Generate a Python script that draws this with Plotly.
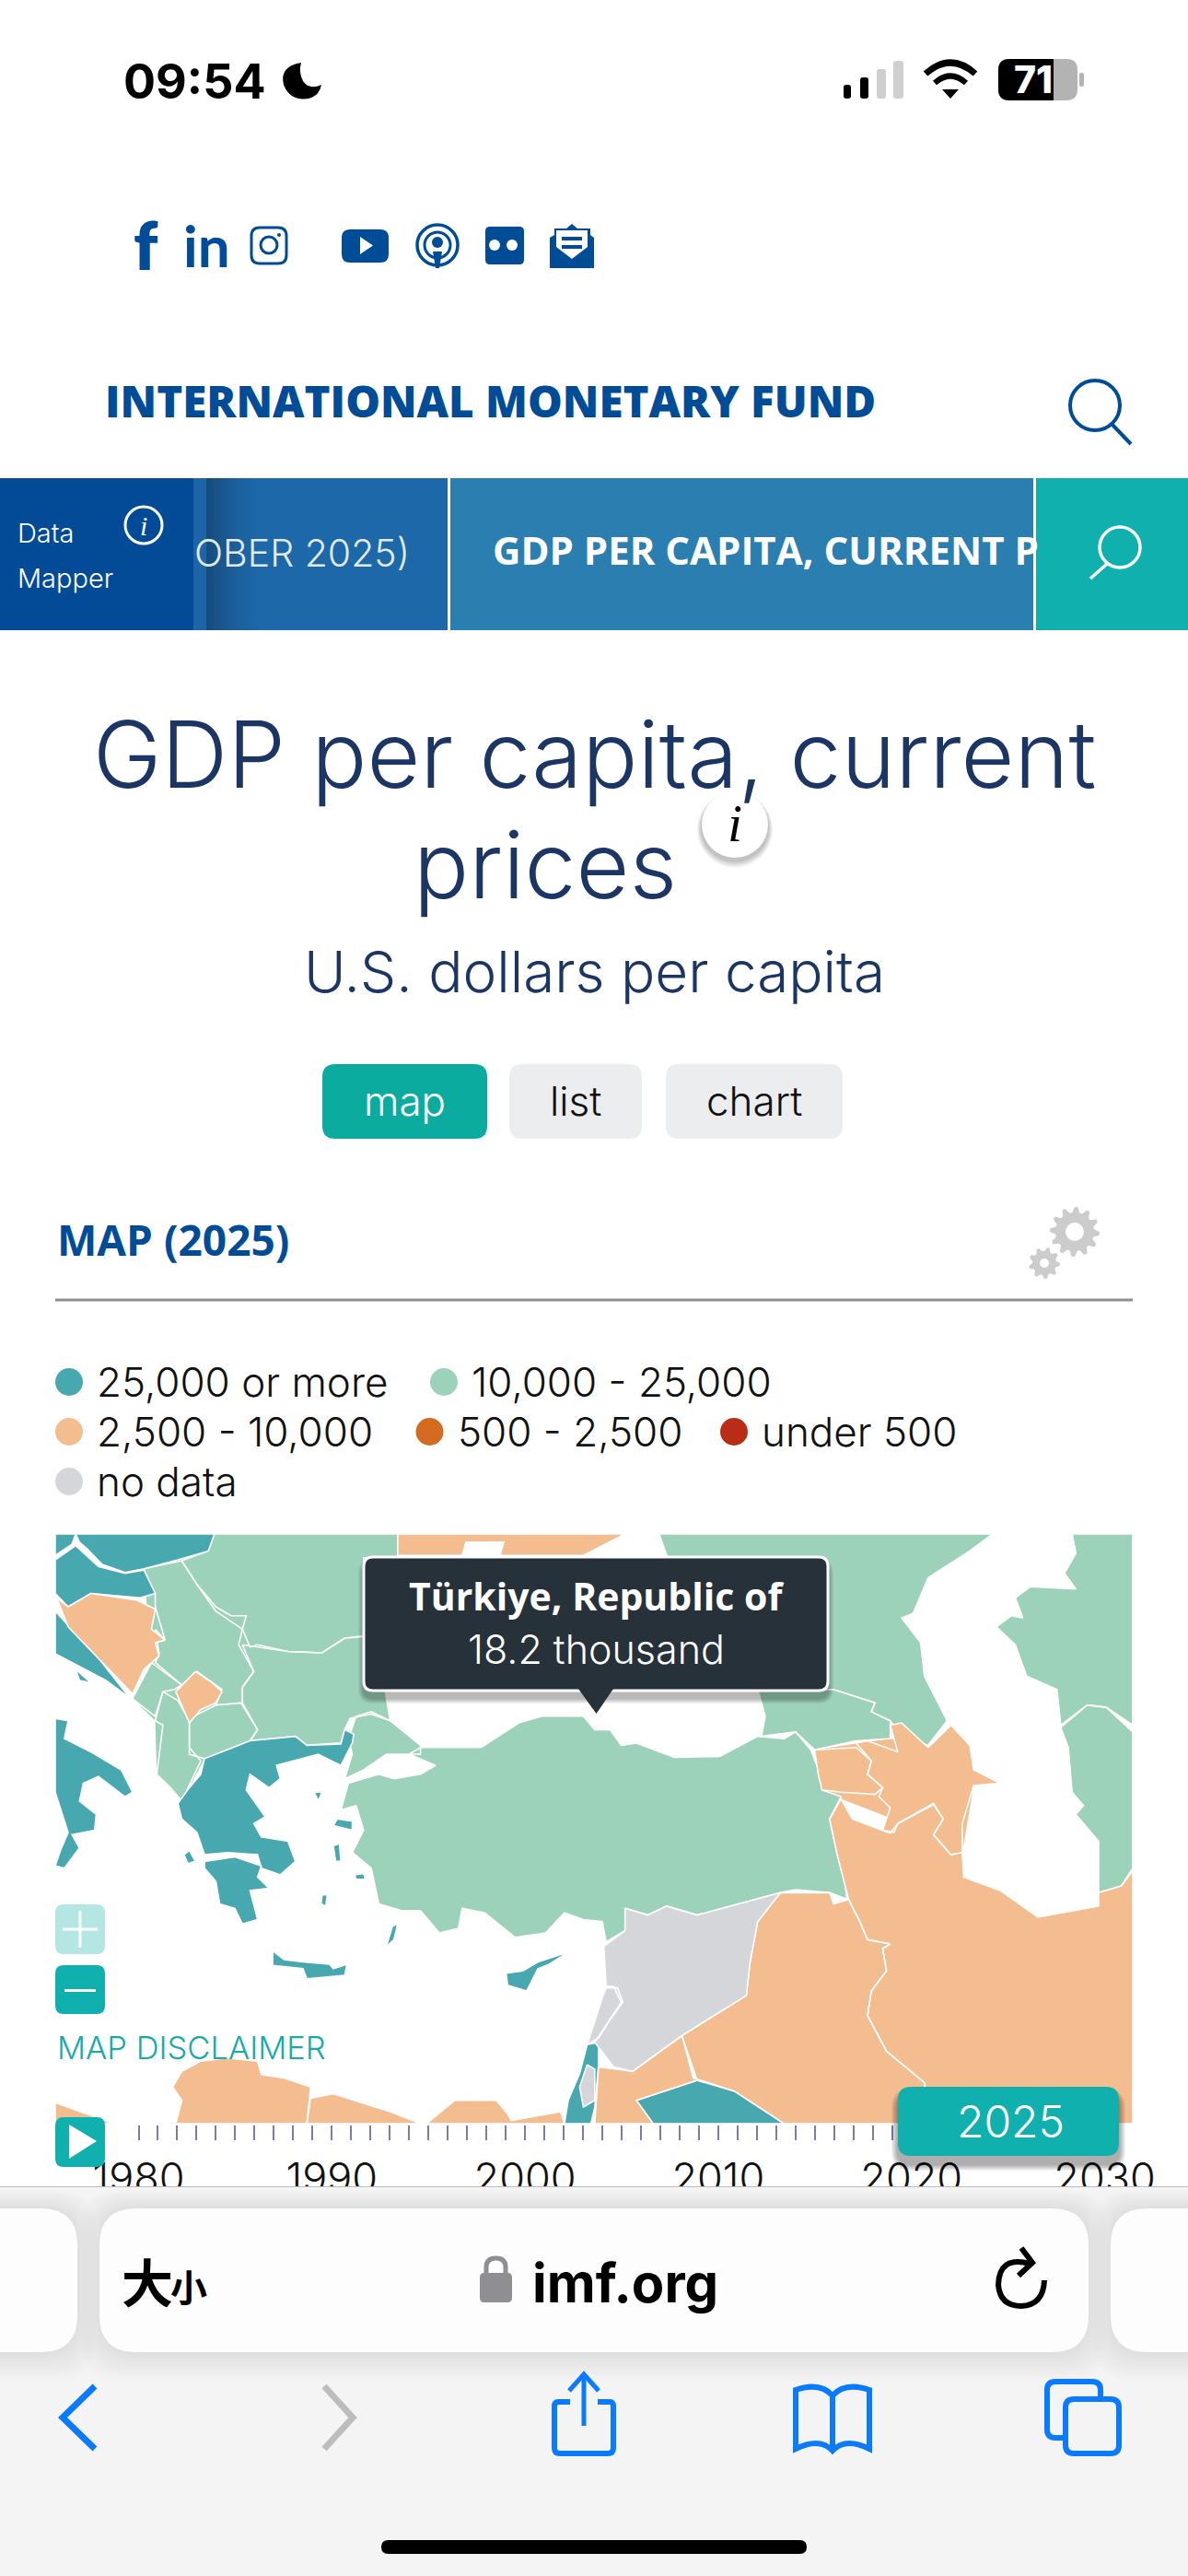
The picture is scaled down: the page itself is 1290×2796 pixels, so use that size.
import math
import plotly.graph_objects as go

# map bands (map units, y grows downwards)
high_band = [
    [(73, 52), (100, 52), (95, 75), (73, 100)],
    [(100, 52), (283, 52), (275, 90), (235, 110), (190, 130), (165, 138), (135, 120), (115, 85), (105, 70)],
    [(73, 110), (100, 78), (130, 125), (165, 140), (190, 133), (205, 185), (185, 195), (120, 185), (90, 215), (73, 185)],
    [(73, 225), (130, 330), (172, 420), (140, 380), (73, 320)],
    [(73, 465), (90, 470), (85, 510), (120, 540), (160, 580), (175, 630), (165, 640), (130, 595), (110, 610), (105, 650),
     (127, 680), (125, 715), (95, 725), (105, 755), (85, 800), (73, 795), (80, 760), (90, 720), (73, 630)],
    [(270, 555), (330, 515), (390, 505), (405, 525), (450, 522), (455, 490), (467, 500), (465, 520), (450, 570), (420, 545),
     (365, 570), (370, 600), (355, 620), (330, 590), (325, 625), (350, 685), (335, 700), (345, 730), (380, 740), (390, 785),
     (370, 815), (345, 800), (340, 770), (300, 765), (270, 770), (260, 720), (240, 690), (235, 655), (250, 620), (265, 590)],
    [(270, 785), (310, 775), (345, 795), (340, 820), (355, 845), (330, 850), (340, 915), (320, 925), (310, 890), (290, 880),
     (285, 830), (270, 800)],
    [(360, 985), (375, 1005), (400, 1010), (435, 1015), (440, 1025), (458, 1015), (455, 1040), (405, 1048), (400, 1025), (360, 1018)],
    [(750, 988), (725, 1015), (710, 1025), (700, 1060), (695, 1075), (670, 1062), (668, 1035), (690, 1030), (710, 1010)],
    [(775, 1195), (790, 1190), (790, 1240), (785, 1335), (780, 1372), (745, 1372), (750, 1320), (765, 1260)],
    [(840, 1320), (920, 1275), (970, 1300), (1035, 1372), (862, 1372)],
    [(445, 690), (465, 695), (465, 715), (440, 705)],
    [(440, 750), (448, 745), (450, 785), (443, 785)],
    [(468, 815), (480, 812), (482, 825), (470, 825)],
    [(425, 860), (432, 860), (430, 885), (424, 880)],
    [(510, 975), (518, 930), (525, 925), (520, 960)],
    [(250, 760), (258, 785), (248, 790), (243, 770)],
    [(415, 630), (425, 630), (420, 650)],
    [(100, 355), (120, 385), (105, 380)],
]
upper_band = [
    [(283, 52), (530, 52), (530, 105), (480, 105), (480, 280), (455, 285), (425, 318), (380, 315), (340, 300), (330, 305),
     (320, 265), (325, 235), (305, 235), (285, 215), (260, 165), (240, 112), (275, 90)],
    [(190, 130), (240, 112), (260, 165), (285, 225), (320, 265), (315, 300), (335, 360), (320, 395), (320, 430), (285, 435),
     (293, 400), (260, 360), (240, 390), (205, 340), (210, 320), (205, 265), (218, 290), (205, 215), (205, 190)],
    [(320, 300), (340, 305), (380, 315), (425, 318), (455, 285), (500, 280), (510, 420), (515, 470), (490, 455), (462, 465),
     (455, 490), (450, 520), (405, 525), (390, 505), (330, 515), (340, 490), (320, 430), (320, 395), (335, 360)],
    [(250, 465), (285, 435), (318, 430), (340, 490), (330, 515), (270, 555), (250, 545)],
    [(215, 405), (235, 425), (250, 470), (250, 530), (265, 560), (240, 650), (225, 620), (207, 590), (215, 480), (205, 470)],
    [(175, 420), (200, 340), (240, 390), (230, 400), (215, 405), (205, 460), (178, 425)],
    [(460, 510), (470, 460), (490, 450), (515, 470), (555, 525), (555, 545), (510, 545), (480, 580), (455, 600), (465, 545)],
    [(555, 530), (635, 530), (685, 475), (715, 460), (770, 460), (785, 490), (805, 490), (820, 525), (840, 520), (890, 552),
     (950, 550), (1000, 505), (1035, 510), (1050, 495), (1070, 535), (1085, 600), (1085, 625), (1110, 640), (1095, 690),
     (1105, 770), (1115, 830), (1118, 870), (1095, 855), (1050, 848), (1030, 855), (975, 880), (920, 905), (880, 885),
     (855, 905), (825, 890), (825, 940), (800, 965), (795, 920), (770, 915), (745, 900), (720, 945), (680, 955), (640, 900),
     (610, 890), (605, 935), (580, 945), (555, 895), (530, 895), (500, 880), (490, 800), (465, 765), (480, 715), (470, 660),
     (450, 670), (460, 610), (500, 590), (520, 600), (555, 590), (575, 570), (540, 545)],
    [(1000, 400), (1100, 400), (1155, 430), (1150, 450), (1175, 470), (1175, 510), (1130, 515), (1075, 535), (1050, 495),
     (1005, 505), (1010, 460)],
    [(870, 52), (1310, 52), (1280, 90), (1225, 150), (1205, 230), (1190, 240), (1215, 295), (1220, 370), (1250, 470),
     (1225, 525), (1190, 510), (1175, 470), (1150, 450), (1155, 430), (1100, 400), (1000, 400), (880, 100)],
    [(1415, 52), (1495, 52), (1495, 480), (1460, 440), (1435, 435), (1400, 480), (1395, 400), (1355, 370), (1340, 300),
     (1315, 260), (1335, 235), (1350, 240), (1340, 195), (1360, 170), (1420, 175), (1405, 140), (1420, 95)],
    [(1400, 485), (1435, 435), (1460, 440), (1495, 495), (1495, 800), (1480, 840), (1450, 855), (1450, 740), (1420, 680),
     (1430, 660), (1415, 630), (1410, 530)],
]
middle_band = [
    [(525, 52), (825, 52), (770, 100), (660, 100), (665, 70), (615, 70), (610, 100), (525, 100)],
    [(75, 195), (90, 215), (120, 185), (180, 200), (205, 220), (200, 265), (218, 290), (205, 295), (210, 325), (190, 355),
     (175, 410), (130, 330), (90, 260)],
    [(258, 360), (280, 385), (293, 405), (285, 430), (265, 445), (250, 475), (232, 405)],
    [(1075, 535), (1130, 530), (1150, 560), (1145, 590), (1165, 620), (1155, 635), (1110, 630), (1085, 625), (1080, 590)],
    [(1130, 520), (1145, 515), (1185, 540), (1175, 480), (1190, 475), (1225, 530), (1255, 480), (1280, 525), (1285, 580),
     (1320, 610), (1285, 615), (1270, 700), (1270, 765), (1255, 770), (1232, 725), (1245, 690), (1232, 655), (1185, 700),
     (1180, 720), (1165, 715), (1175, 665), (1160, 640), (1165, 620), (1145, 590), (1150, 560)],
    [(1110, 645), (1125, 690), (1175, 722), (1185, 700), (1232, 658), (1245, 690), (1232, 725), (1255, 770), (1270, 765),
     (1272, 820), (1320, 850), (1370, 910), (1450, 885), (1450, 855), (1480, 840), (1495, 805), (1495, 1372), (1230, 1372),
     (1220, 1280), (1170, 1210), (1145, 1130), (1150, 1075), (1170, 1030), (1165, 980), (1175, 970), (1145, 960),
     (1135, 920), (1120, 870), (1105, 770), (1095, 690)],
    [(1030, 855), (1095, 855), (1100, 880), (1120, 870), (1135, 920), (1145, 960), (1175, 970), (1165, 980), (1170, 1030),
     (1150, 1075), (1145, 1130), (1170, 1210), (1220, 1280), (1230, 1372), (1035, 1372), (970, 1300), (925, 1275),
     (915, 1270), (900, 1175), (985, 1085), (990, 1010), (1000, 920)],
    [(900, 1175), (835, 1255), (790, 1245), (785, 1372), (862, 1372), (840, 1320), (920, 1275)],
    [(232, 1372), (240, 1320), (228, 1290), (240, 1255), (265, 1232), (300, 1225), (340, 1232), (345, 1262), (375, 1270),
     (410, 1290), (405, 1372)],
    [(410, 1315), (440, 1305), (495, 1335), (515, 1345), (555, 1372), (405, 1372)],
    [(563, 1372), (600, 1320), (655, 1320), (670, 1350), (675, 1365), (740, 1345), (745, 1372)],
    [(73, 1325), (150, 1372), (73, 1372)],
]
no_data_band = [
    [(825, 890), (855, 905), (880, 885), (920, 905), (975, 880), (1030, 855), (1000, 920), (990, 1010), (985, 1085), (900, 1175),
     (835, 1255), (810, 1245), (785, 1190), (805, 1140), (820, 1100), (810, 1065), (800, 1065), (797, 975), (825, 940)],
    [(800, 1068), (815, 1068), (822, 1100), (805, 1140), (790, 1180), (775, 1195), (795, 1090)],
    [(775, 1240), (785, 1250), (785, 1320), (770, 1335), (765, 1290)],
]
# land under the Balkans and the Caucasus, so no sea shows between neighbours
balkan_land = [(190, 130), (283, 52), (530, 52), (530, 105), (500, 400), (515, 470), (490, 455), (462, 465), (455, 490),
               (340, 500), (270, 555), (240, 650), (207, 590), (205, 470), (175, 420), (200, 340)]
caucasus_land = [(1075, 535), (1175, 510), (1225, 530), (1255, 480), (1280, 525), (1285, 615), (1270, 765), (1232, 725),
                 (1110, 645), (1085, 625), (1080, 590)]

legend_labels = ["25,000 or more", "10,000 - 25,000", "2,500 - 10,000", "500 - 2,500", "under 500", "no data"]
legend_colors = ["#48a8b0", "#9dd2ba", "#f3bd90", "#d56a21", "#b92d17", "#d5d6da"]
slider_years = list(range(1980, 2031))
slider_labels = [str(y) if y % 10 == 0 else "" for y in slider_years]
current_year = "2025"

BLUE = "#004c97"
NAVY = "#1b3564"
TEAL = "#0fb0ae"
LIGHT = "Inter"
BOLD = "Open Sans"
ICON = "#0a7aff"

shapes = []
annotations = []


def rrect(x0, y0, x1, y1, r):
    return (f"M{x0 + r},{y0}L{x1 - r},{y0}Q{x1},{y0} {x1},{y0 + r}L{x1},{y1 - r}Q{x1},{y1} {x1 - r},{y1}"
            f"L{x0 + r},{y1}Q{x0},{y1} {x0},{y1 - r}L{x0},{y0 + r}Q{x0},{y0} {x0 + r},{y0}Z")


def path(d, fill=None, line=None, width=0):
    shapes.append(dict(type="path", path=d, xref="x", yref="y", layer="above",
                       fillcolor=fill or "rgba(0,0,0,0)",
                       line=dict(color=line or "rgba(0,0,0,0)", width=width)))


def box(x0, y0, x1, y1, fill):
    shapes.append(dict(type="rect", x0=x0, y0=y0, x1=x1, y1=y1, xref="x", yref="y", layer="above",
                       fillcolor=fill, line=dict(width=0)))


def circle(cx, cy, r, fill=None, line=None, width=0):
    shapes.append(dict(type="circle", x0=cx - r, y0=cy - r, x1=cx + r, y1=cy + r, xref="x", yref="y", layer="above",
                       fillcolor=fill or "rgba(0,0,0,0)",
                       line=dict(color=line or "rgba(0,0,0,0)", width=width)))


def text(x, y, s, size, color, weight=300, anchor="left", family=LIGHT, style="normal"):
    annotations.append(dict(x=x, y=y, xref="x", yref="y", text=s, showarrow=False, xanchor=anchor, yanchor="middle",
                            font=dict(family=family, size=size, color=color, weight=weight, style=style)))


def shadow(x0, y0, x1, y1, r, steps=5, drop=8):
    for i in range(steps, 0, -1):
        path(rrect(x0 - i, y0 + drop - i, x1 + i, y1 + drop + i, r + i), fill="rgba(0,0,0,0.05)")


def gear(cx, cy, r_out, r_in, r_hole, teeth):
    pts = []
    for i in range(teeth * 4):
        a = 2 * math.pi * i / (teeth * 4)
        r = r_out if i % 4 in (0, 1) else r_in
        pts.append(f"{cx + r * math.cos(a):.1f},{cy + r * math.sin(a):.1f}")
    path("M" + "L".join(pts) + "Z", fill="#cccccc")
    circle(cx, cy, r_hole, fill="#ffffff")


def add_land(poly, color):
    fig.add_trace(go.Scatter(x=[p[0] for p in poly] + [poly[0][0]], y=[p[1] for p in poly] + [poly[0][1]],
                             xaxis="x2", yaxis="y2", mode="lines", fill="toself", fillcolor=color,
                             line=dict(color=color, width=0), showlegend=False, hoverinfo="skip"))


fig = go.Figure()

# page axes, in screen pixels
fig.add_trace(go.Scatter(x=[0], y=[0], mode="none", showlegend=False, hoverinfo="skip"))

# map
add_land(balkan_land, legend_colors[1])
add_land(caucasus_land, legend_colors[2])
band_fills = [(upper_band, legend_colors[1]), (high_band, legend_colors[0]),
              (middle_band, legend_colors[2]), (no_data_band, legend_colors[5])]
for band, color in band_fills:
    xs, ys = [], []
    for poly in band:
        xs += [p[0] for p in poly] + [poly[0][0], None]
        ys += [p[1] for p in poly] + [poly[0][1], None]
    fig.add_trace(go.Scatter(x=xs, y=ys, xaxis="x2", yaxis="y2", mode="lines", fill="toself", fillcolor=color,
                             line=dict(color="#ffffff", width=1.6), showlegend=False, hoverinfo="skip"))

# year slider axis
fig.add_trace(go.Scatter(x=slider_years, y=[0] * len(slider_years), xaxis="x3", yaxis="y3", mode="none",
                         showlegend=False, hoverinfo="skip"))

# status bar
text(132, 88, "09:54", 52, "#000000", 700, family="Inter")
path("M327,68Q303,72 308,92Q315,110 335,107Q347,104 349,92Q336,98 329,88Q324,78 327,68Z", fill="#000000")
for x0, x1, top, col in [(916, 924, 92, "#000000"), (934, 943, 84, "#000000"), (952, 962, 75, "#cfcfcf"), (970, 981, 66, "#cfcfcf")]:
    path(rrect(x0, top, x1, 107, 3), fill=col)
path("M1005,80Q1032,56 1059,80", line="#000000", width=7)
path("M1015,90Q1032,75 1049,90", line="#000000", width=6)
path("M1023,97L1041,97L1032,107Z", fill="#000000")
path(rrect(1084, 64, 1170, 109, 12), fill="#b3b3b3")
path("M1144,64L1096,64Q1084,64 1084,76L1084,97Q1084,109 1096,109L1144,109Z", fill="#000000")
path(rrect(1172, 79, 1177, 94, 2), fill="#b3b3b3")
text(1122, 86, "71", 41, "#ffffff", 800, "center", family="Inter")

# social icons
text(143, 265, "f", 72, BLUE, 800, family="Lato")
text(197, 266, "in", 62, BLUE, 700, family="Lato")
path(rrect(273, 247, 311, 286, 9), line=BLUE, width=3)
circle(292, 266, 9, line=BLUE, width=3)
circle(303, 255, 2, fill=BLUE)
path(rrect(371, 249, 422, 285, 9), fill=BLUE)
path("M391,257L391,276L405,266.5Z", fill="#ffffff")
circle(475, 266, 22, line=BLUE, width=3.5)
circle(475, 266, 14, line=BLUE, width=3)
circle(475, 263, 6, fill=BLUE)
path("M470,273L480,273L477,291L473,291Z", fill=BLUE)
path(rrect(527, 246, 569, 287, 5), fill=BLUE)
circle(537, 266, 6, fill="#ffffff")
circle(556, 266, 6, fill="#ffffff")
path("M597,291L597,258L602,255L602,248L615,248L621,243L627,248L641,248L641,255L645,258L645,291Z", fill=BLUE)
path("M604,250L638,250L638,268L621,281L604,268Z", fill="#ffffff")
box(610, 257, 632, 261, BLUE)
box(610, 266, 632, 270, BLUE)

text(112, 434, "INTERNATIONAL MONETARY FUND", 47.5, BLUE, 800, family=BOLD)
circle(1189, 440, 27, line=BLUE, width=4)
path("M1207,460L1228,482", line=BLUE, width=4)

# nav bar
box(0, 519, 210, 684, "#034b97")
box(210, 519, 224, 684, "#1e65a8")
box(224, 519, 486, 684, "#1d68a8")
for i in range(14):
    box(224 + i * 4, 519, 228 + i * 4, 684, f"rgba(20,60,100,{0.62 * (1 - i / 14) ** 1.5:.3f})")
box(486, 519, 489, 684, "#ffffff")
box(489, 519, 1122, 684, "#2a7eb0")
box(1122, 519, 1125, 684, "#ffffff")
box(1125, 519, 1290, 684, TEAL)
text(17, 578, "Data", 29, "#ffffff")
text(17, 627, "Mapper", 29, "#ffffff")
circle(156, 570, 20, line="#ffffff", width=3)
text(156, 570, "i", 30, "#ffffff", 400, "center", family="Liberation Serif", style="italic")
text(209, 600, "OBER 2025)", 41, "#e3e9f1")
text(533, 596, "GDP PER CAPITA, CURRENT P", 42, "#ffffff", 700, family=BOLD)
circle(1216, 594, 22, line="#ffffff", width=3.5)
path("M1202,612L1184,628", line="#ffffff", width=3.5)

# title block
text(645, 818, "GDP per capita, current", 100, NAVY, 300, "center")
text(592, 938, "prices", 100, NAVY, 300, "center")
text(645, 1054, "U.S. dollars per capita", 62, NAVY, 300, "center")
for i in range(5, 0, -1):
    circle(798, 898 + i / 2, 36 + i, fill="rgba(0,0,0,0.05)")
circle(798, 895, 36, fill="#ffffff")
text(798, 893, "i", 58, "#000000", 400, "center", family="Liberation Serif", style="italic")

# view buttons
path(rrect(350, 1155, 529, 1236, 14), fill="#0cab9f")
path(rrect(553, 1155, 697, 1236, 14), fill="#ecedef")
path(rrect(723, 1155, 915, 1236, 14), fill="#ecedef")
text(439, 1195, "map", 44, "#ffffff", 300, "center")
text(625, 1195, "list", 44, "#111111", 300, "center")
text(819, 1195, "chart", 44, "#111111", 300, "center")

text(60, 1345, "MAP (2025)", 46, BLUE, 700, family=BOLD)
gear(1167, 1337, 27, 21, 10, 12)
gear(1134, 1371, 17, 13, 5, 9)
box(60, 1409.5, 1230, 1412.5, "#8e8e93")

# legend
legend_slots = [(75, 1500), (482, 1500), (75, 1554), (466.5, 1554), (797, 1554), (75, 1608)]
for label, color, (cx, cy) in zip(legend_labels, legend_colors, legend_slots):
    circle(cx, cy, 15, fill=color)
    text(cx + 28, cy, label, 44, "#111111")

# tooltip
shadow(395, 1690, 899, 1835, 10, steps=6, drop=8)
path(rrect(395, 1690, 899, 1835, 10), fill="#263139", line="#ffffff", width=3)
path("M628,1833L666,1833L647.5,1860Z", fill="#263139")
text(647, 1732, "Türkiye, Republic of", 41, "#ffffff", 700, "center", family=BOLD)
text(647, 1790, "18.2 thousand", 43, "#ffffff", 300, "center")

# zoom buttons, disclaimer, play
path(rrect(60, 2067, 114, 2121, 9), fill="#b4e6e4")
box(68, 2092.5, 106, 2095.5, "#ffffff")
box(85.5, 2074, 88.5, 2114, "#ffffff")
path(rrect(60, 2133, 114, 2186, 9), fill=TEAL)
box(70, 2159, 104, 2162, "#ffffff")
text(60, 2222, "MAP DISCLAIMER", 34.5, "#19aaa8")
path(rrect(60, 2298, 114, 2352, 9), fill=TEAL)
path("M75,2306L75,2343L105,2324Z", fill="#ffffff")

# slider thumb
shadow(975, 2265, 1215, 2340, 14, steps=7, drop=9)
path(rrect(975, 2265, 1215, 2340, 14), fill=TEAL)
text(1097, 2302, current_year, 48, "#ffffff", 300, "center")

# browser chrome, on top of the cut off tick labels
box(0, 2373, 1290, 2796, "#f4f4f5")
box(0, 2373, 1290, 2374, "#bcbcbc")
for i in range(10, 0, -1):
    path(rrect(108 - i * 2, 2397 - i * 2, 1182 + i * 2, 2553 + i * 3, 40), fill="rgba(0,0,0,0.007)")
    path(rrect(-40, 2397 - i * 2, 84 + i * 2, 2553 + i * 3, 40), fill="rgba(0,0,0,0.007)")
    path(rrect(1206 - i * 2, 2397 - i * 2, 1330, 2553 + i * 3, 40), fill="rgba(0,0,0,0.007)")
path(rrect(-40, 2397, 84, 2553, 40), fill="#fdfdfd")
path(rrect(108, 2397, 1182, 2553, 40), fill="#fdfdfd")
path(rrect(1206, 2397, 1330, 2553, 40), fill="#fdfdfd")
text(160, 2474, "大", 56, "#000000", 700, "center", family="Noto Sans CJK SC")
text(205, 2481, "小", 40, "#000000", 700, "center", family="Noto Sans CJK SC")
path(rrect(521, 2467, 556, 2499, 5), fill="#8e8e93")
path("M528,2468L528,2461Q528,2451 538.5,2451Q549,2451 549,2461L549,2468", line="#8e8e93", width=5)
text(576, 2478, "imf.org", 58, "#000000", 700, family="Inter")
path("M1118,2457Q1085,2448 1084,2480Q1086,2503 1109,2503Q1133,2502 1134,2475", line="#000000", width=6)
path("M1109,2440L1121,2456L1106,2470", line="#000000", width=6)

path("M103,2590L68,2624L103,2658", line=ICON, width=7)
path("M352,2590L383,2624L352,2658", line="#bdbdbd", width=7)
path("M619,2607L606,2607Q602,2607 602,2612L602,2657Q602,2663 608,2663L660,2663Q666,2663 666,2657L666,2612Q666,2607 662,2607L649,2607",
     line=ICON, width=6)
path("M634,2633L634,2580", line=ICON, width=5)
path("M618,2595L634,2577L650,2595", line=ICON, width=5)
path("M904,2600Q890,2585 864,2594L864,2658Q890,2645 904,2660Q918,2645 944,2658L944,2594Q918,2585 904,2600L904,2660",
     line=ICON, width=6)
path(rrect(1137, 2585, 1195, 2646, 9), line=ICON, width=6)
path(rrect(1157, 2604, 1215, 2663, 9), fill="#f4f4f5", line=ICON, width=6)
path(rrect(414, 2757, 876, 2772, 7.5), fill="#000000")

fig.update_layout(
    width=1290,
    height=2796,
    autosize=False,
    template="none",
    margin=dict(l=0, r=0, t=0, b=0, pad=0, autoexpand=False),
    paper_bgcolor="#ffffff",
    plot_bgcolor="#ffffff",
    showlegend=False,
    shapes=shapes,
    annotations=annotations,
    xaxis=dict(range=[0, 1290], visible=False, fixedrange=True, automargin=False),
    yaxis=dict(range=[2796, 0], visible=False, fixedrange=True, automargin=False),
    xaxis2=dict(domain=[60 / 1290, 1230 / 1290], range=[73, 1495], visible=False, anchor="y2", automargin=False),
    yaxis2=dict(domain=[1 - 2305 / 2796, 1 - 1665 / 2796], range=[1372, 52], visible=False, anchor="x2", automargin=False),
    xaxis3=dict(domain=[150.5 / 1290, 1199.5 / 1290], range=[1980, 2030], anchor="free", position=1 - 2305.5 / 2796,
                side="bottom", tickvals=slider_years, ticktext=slider_labels, ticks="outside", ticklen=16, tickwidth=2,
                tickcolor="#7c7ca6", showgrid=False, showline=False, zeroline=False, automargin=False,
                ticklabeloverflow="allow", tickangle=0, ticklabelstandoff=3,
                tickfont=dict(family=LIGHT, size=45, color="#111111", weight=300)),
    yaxis3=dict(domain=[0, 0.01], visible=False, anchor="x3", automargin=False),
)

fig.write_html("out.html", config={"displayModeBar": False}, post_script="document.body.style.margin='0';")
